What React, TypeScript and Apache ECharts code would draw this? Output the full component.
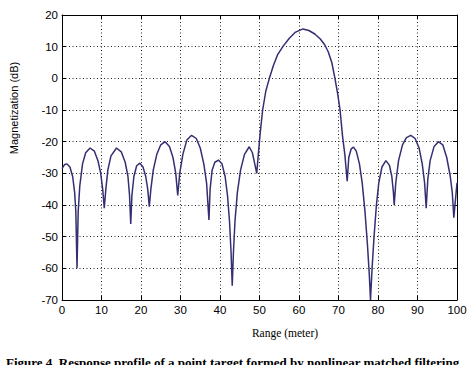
import React, { useEffect, useRef } from "react";
import * as echarts from "echarts";

const rangeM: number[] = [
  0, 0.6, 1.2, 2, 2.7, 3.2, 3.5, 3.8,
  4.1, 4.5, 5.2, 6, 7.1, 8.2, 9.1, 9.8, 10.3, 10.7,
  11.1, 11.6, 12.4, 13.8, 15, 16, 16.7, 17.1, 17.4,
  17.7, 18.2, 18.9, 19.7, 20.5, 21.2, 21.7, 22.1,
  22.5, 23.1, 24, 25, 26.1, 27.2, 28.1, 28.8, 29.3,
  29.8, 30.6, 31.6, 32.8, 34, 35, 35.9, 36.6, 37.2,
  37.5, 38, 38.7, 39.6, 40.5, 41.3, 41.9, 42.4, 42.8, 43.1,
  43.4, 43.8, 44.4, 45.2, 46.2, 47.4, 48.2, 48.8, 49.3,
  49.7, 50.2, 50.8, 51.6, 52.5, 53.5, 54.6, 55.9, 57.5, 59, 61, 62.5, 64, 65.4, 66.5, 67.4, 68.3, 69.1, 69.8, 70.4, 71, 71.6, 72.2,
  72.6, 73.2, 73.8, 74.5, 75.3, 76, 76.7, 77.3, 77.8, 78.1,
  78.5, 79, 79.6, 80.2, 81, 82, 82.9, 83.5, 83.9, 84.1,
  84.5, 85.2, 86.2, 87.2, 88.3, 89.4, 90.4, 91.2, 91.8, 92.2,
  92.6, 93.2, 94.2, 95.3, 96.4, 97.4, 98.3, 98.8, 99.2,
  100,
];

const magnetizationDb: number[] = [
  -28.5, -27.3, -27, -28, -31, -36, -42, -60,
  -42, -34, -27, -23.5, -22, -23, -26, -30, -35, -41,
  -35, -29, -24.5, -22, -23.2, -26.5, -31, -37, -46,
  -37, -31, -27.6, -26.8, -28, -31, -35, -40.5,
  -35, -29, -24, -21, -20, -21.5, -25, -30, -37,
  -30, -24, -19.5, -18, -19, -22, -27, -33, -44.7,
  -35, -29, -26.5, -25.8, -27, -31, -37, -45, -55, -65.5,
  -55, -45, -36, -29, -24, -21.6, -23.5, -27, -30,
  -24, -17, -10, -4, 0, 4, 7.5, 10, 12.6, 14.5, 15.6, 15.1, 14, 12.4, 10.6, 8.4, 5, 0, -5, -10, -18, -24, -32.5,
  -25, -22.3, -21.7, -23, -27, -33, -42, -52, -62, -70,
  -60, -50, -40, -33, -28, -26, -27.5, -31, -36, -40,
  -33, -26, -21, -18.7, -18, -19, -22, -27, -33, -41,
  -32, -26, -21.5, -20, -21, -25, -31, -36, -44,
  -33,
];

const xTicks = { min: 0, max: 100, interval: 10 };
const yTicks = { min: -70, max: 20, interval: 10 };

const yTitle = "Magnetization (dB)";
const xTitle = "Range (meter)";
const caption =
  "Figure 4. Response profile of a point target formed by nonlinear matched filtering";

export default function App() {
  const ref = useRef<HTMLDivElement>(null);
  useEffect(() => {
    if (!ref.current) return;
    const chart = echarts.init(ref.current, undefined, { renderer: "svg" });
    const data = rangeM.map((x, i) => [x, magnetizationDb[i]]);
    const labelStyle = {
      color: "#000",
      fontFamily: "Liberation Sans, Arial, sans-serif",
      fontSize: 11.5,
    };
    const gridLine = {
      show: true,
      lineStyle: { color: "#222", type: [1, 2.5] as any, width: 1 },
    };
    const tick = { show: true, inside: true, length: 4, lineStyle: { color: "#000" } };
    const line = { show: true, onZero: false, lineStyle: { color: "#000", width: 1 } };
    chart.setOption({
      animation: false,
      backgroundColor: "#fff",
      grid: { left: 62, top: 15, right: 17, bottom: 65, containLabel: false },
      xAxis: [
        {
          type: "value",
          ...xTicks,
          axisLine: line,
          axisTick: tick,
          axisLabel: { ...labelStyle, margin: 4 },
          splitLine: gridLine,
        },
        {
          type: "value",
          position: "top",
          ...xTicks,
          axisLine: line,
          axisTick: tick,
          axisLabel: { show: false },
          splitLine: { show: false },
        },
      ],
      yAxis: [
        {
          type: "value",
          ...yTicks,
          axisLine: line,
          axisTick: tick,
          axisLabel: { ...labelStyle, margin: 4 },
          splitLine: gridLine,
        },
        {
          type: "value",
          position: "right",
          ...yTicks,
          axisLine: line,
          axisTick: tick,
          axisLabel: { show: false },
          splitLine: { show: false },
        },
      ],
      series: [
        {
          type: "line",
          data,
          showSymbol: false,
          smooth: false,
          clip: true,
          lineStyle: { color: "#342f72", width: 1.5 },
        },
      ],
      graphic: [
        {
          type: "text",
          x: 14,
          y: 108,
          rotation: Math.PI / 2,
          style: {
            text: yTitle,
            fill: "#000",
            font: "11px 'Liberation Sans', Arial, sans-serif",
            align: "center",
            verticalAlign: "middle",
          },
        },
        {
          type: "text",
          x: 285,
          y: 333,
          style: {
            text: xTitle,
            fill: "#000",
            font: "11.5px 'Liberation Serif', 'Times New Roman', serif",
            align: "center",
            verticalAlign: "middle",
          },
        },
        {
          type: "text",
          x: 6,
          y: 356,
          style: {
            text: caption,
            fill: "#000",
            font: "bold 13px 'Liberation Serif', 'Times New Roman', serif",
            align: "left",
            verticalAlign: "top",
          },
        },
      ],
    });
    return () => chart.dispose();
  }, []);
  return (
    <div
      ref={ref}
      style={{ position: "absolute", left: 0, top: 0, width: 474, height: 365, background: "#fff" }}
    />
  );
}
